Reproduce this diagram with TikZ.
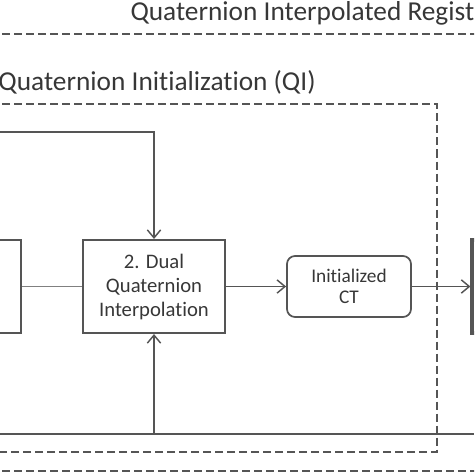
\documentclass[tikz,border=0pt]{standalone}
\usepackage{fontspec}
\setmainfont{Carlito}[Ligatures={NoCommon,NoContextual}]
\usetikzlibrary{arrows.meta}
\definecolor{linegray}{RGB}{85,85,85}
\definecolor{textgray}{RGB}{55,55,55}
\tikzset{every picture/.style={line width=0.75pt}}
\tikzset{
  stepbox/.style={draw=linegray, line width=1.5pt, minimum width=106.5pt, minimum height=69.75pt, align=center, text=textgray, font=\fontsize{15.5}{18}\selectfont, inner sep=0pt},
  resultbox/.style={draw=linegray, line width=1.3pt, rounded corners=6pt, minimum width=93pt, minimum height=45.75pt, align=center, text=textgray, font=\fontsize{14.5}{16}\selectfont, inner sep=0pt},
  nextbox/.style={draw=linegray, line width=2.4pt, minimum width=106.5pt, minimum height=69.75pt},
  flow/.style={draw=linegray, line width=1.1pt, -{Straight Barb[length=6pt,width=10pt,line width=1.1pt]}},
  plainline/.style={draw=linegray, line width=1.1pt},
  linkline/.style={draw=gray, line width=0.8pt},
  region/.style={draw=linegray, line width=1.5pt, dash pattern=on 6pt off 3pt},
  regionlabel/.style={text=textgray, font=\fontsize{20.5}{24}\selectfont, inner sep=0pt, anchor=base west}
}

\begin{document}
\begin{tikzpicture}[x=0.75pt,y=0.75pt,yscale=-1,xscale=1]
\useasboundingbox (0,0) rectangle (474,474);
\clip (0,0) rectangle (474,474);

% Text Node
\node[regionlabel] (qirlabel) at (130,20.7) {Quaternion Interpolated Registr};
% Text Node
\node[regionlabel] (qilabel) at (-2,90.7) {Quaternion Initialization (QI)};

%Shape: Dashed outer region
\draw[region] (-10,34) -- (484,34);
\draw[region] (-10,471) -- (484,471);
%Shape: Dashed QI region
\draw[region] (-10,104) -- (436.5,104) -- (436.5,452) -- (-10,452);

%Shape: Rectangle (previous step)
\node[stepbox] (prev) at (-50,286.5) {};
%Shape: Rectangle
\node[stepbox] (dqi) at (154,286.5) {2. Dual\\Quaternion\\Interpolation};
%Shape: Rounded rectangle
\node[resultbox] (ict) at (349,286.5) {Initialized\\CT};
%Shape: Rectangle (next step)
\node[nextbox] (next) at (543,286.5) {};

% Connectors
\coordinate (topin) at (0,132);
\coordinate (botin) at (0,434);
\coordinate (botout) at (474,434);
\draw[flow] (topin) -| (dqi.north);
\draw[plainline] (botin) -- (botout);
\draw[flow] (dqi.south |- botin) -- (dqi.south);
\draw[linkline] (prev.east) -- (dqi.west);
\draw[flow] (dqi.east) -- (ict.west);
\draw[flow] (ict.east) -- (next.west);

\end{tikzpicture}
\end{document}
